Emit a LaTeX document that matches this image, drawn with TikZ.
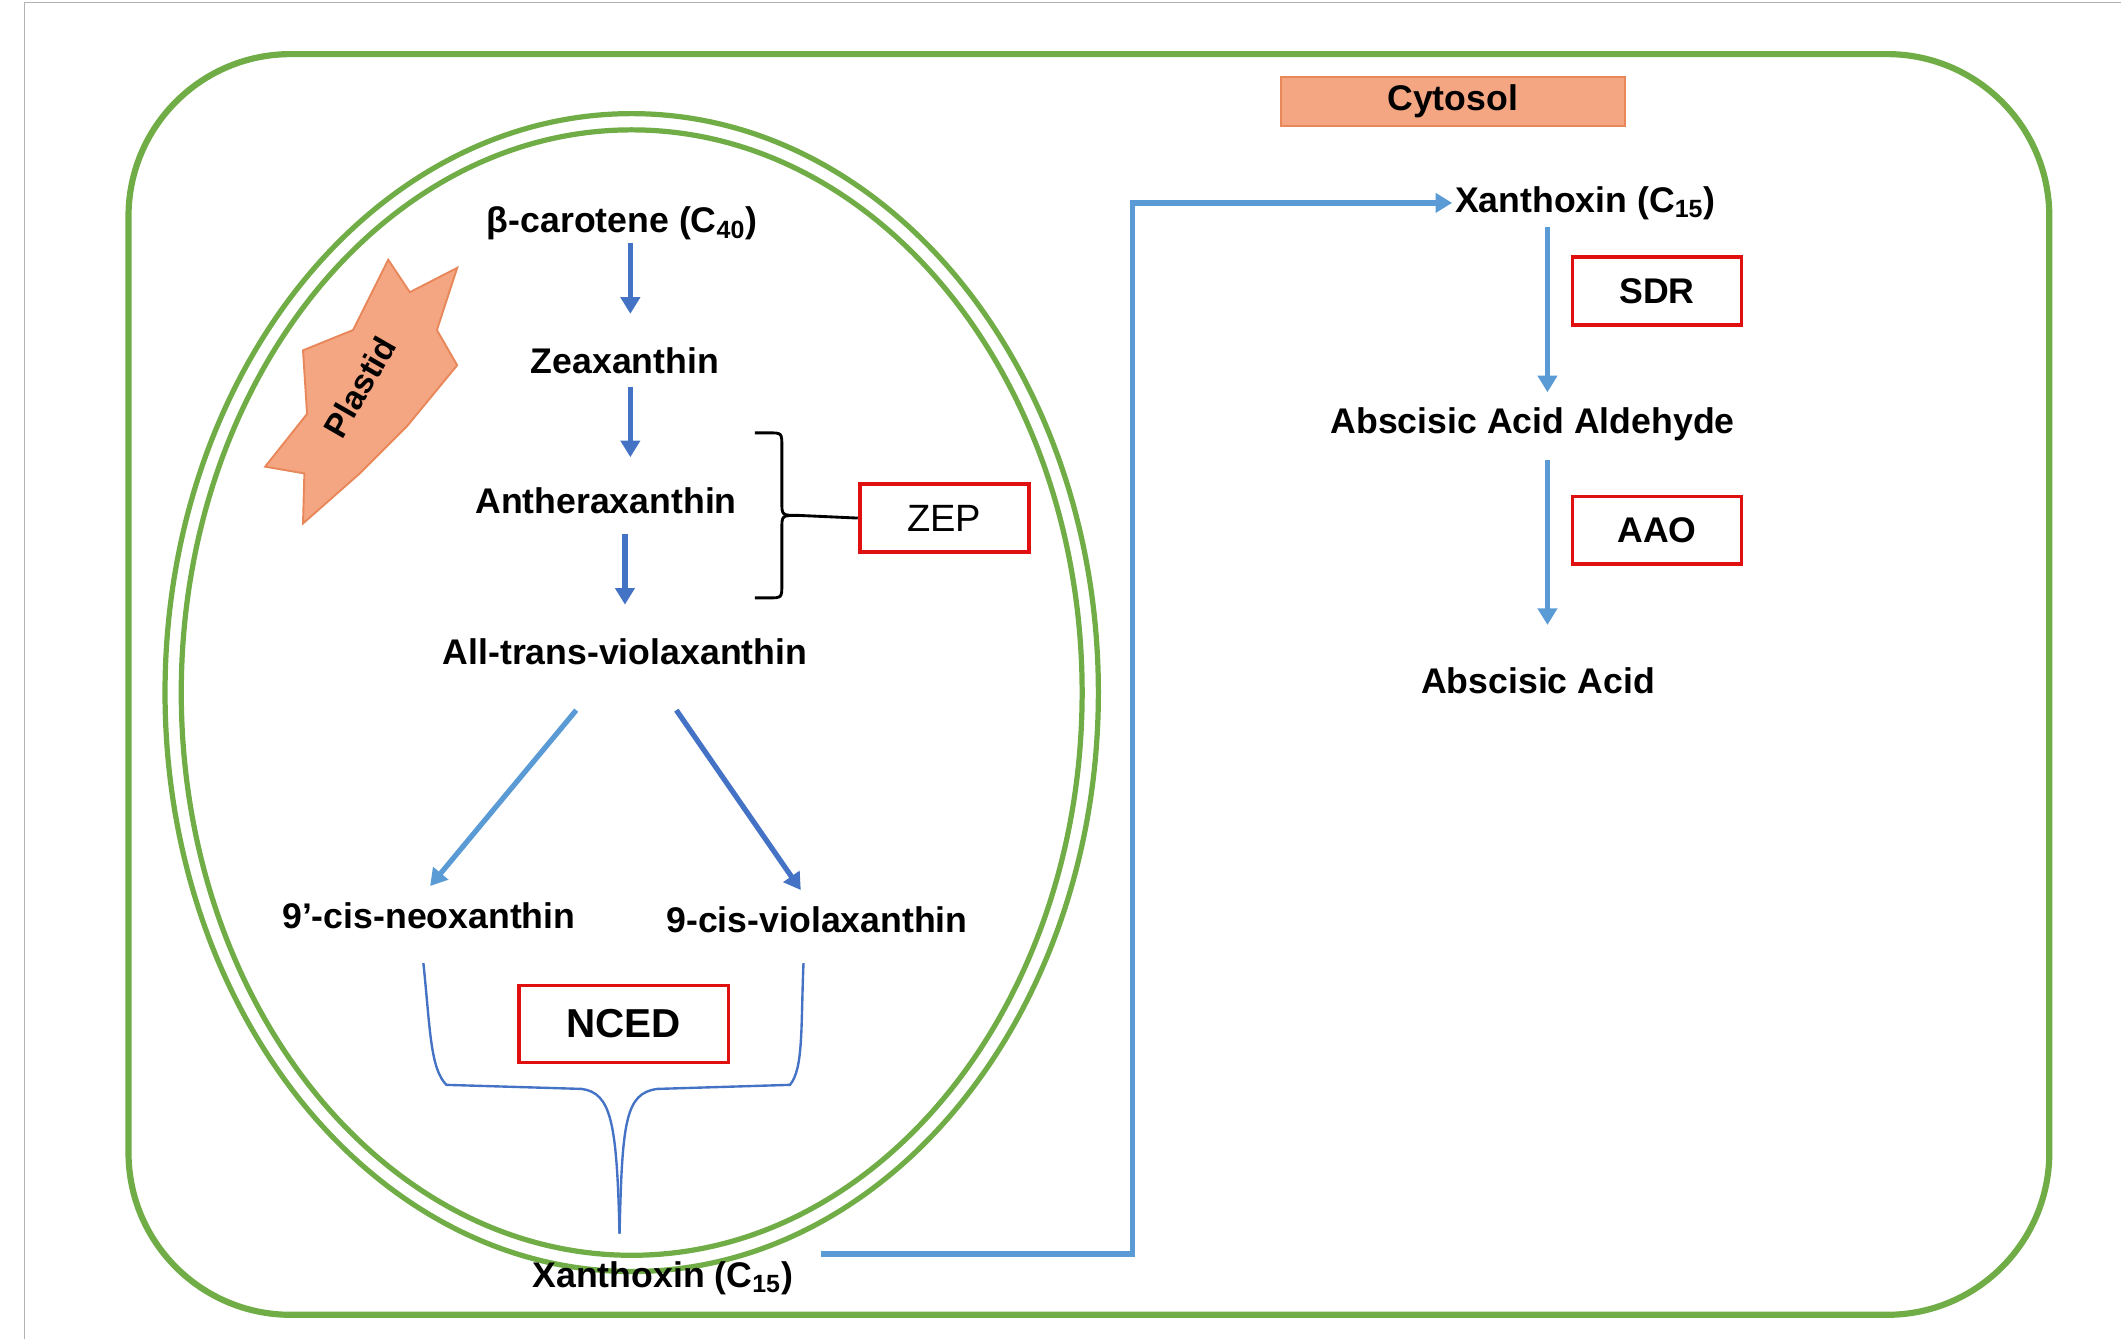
\documentclass[tikz,border=0pt]{standalone}
\usepackage{fontspec}
\setmainfont{Liberation Sans}
\usetikzlibrary{shapes.geometric,arrows.meta,decorations.pathreplacing}
\definecolor{grn}{HTML}{70AD47}
\definecolor{dblue}{HTML}{4472C4}
\definecolor{lblue}{HTML}{5B9BD5}
\definecolor{org}{HTML}{F4A582}
\definecolor{orgd}{HTML}{E8875A}
\definecolor{rd}{HTML}{E01010}
\begin{document}
\begin{tikzpicture}[x=0.02cm,y=-0.02cm,
  lbl/.style={font=\fontsize{15}{18}\selectfont\bfseries,inner sep=1pt},
  enz/.style={draw=rd,line width=1.6pt,minimum width=2.5cm,minimum height=1cm,font=\fontsize{15}{18}\selectfont\bfseries},
  darr/.style={draw=dblue,line width=2.2pt,-{Triangle[length=7pt,width=8pt]}},
  larr/.style={draw=lblue,line width=2.2pt,-{Triangle[length=7pt,width=8pt]}}]
\useasboundingbox (0,0) rectangle (1568,990);
\draw[gray!60,line width=0.6pt] (18,990) -- (18,2) -- (1568,2);
\draw[grn,line width=2.6pt,rounded corners=2.4cm] (95,40) rectangle (1515,972);
\draw[grn,line width=2.2pt] (467,512) ellipse [x radius=345,y radius=428];
\draw[grn,line width=2.2pt] (467,512) ellipse [x radius=333,y radius=416];
\draw[fill=org,draw=orgd,line width=0.8pt] (287,192) -- (303,216) -- (338,198) -- (323,244) -- (338,270) -- (301,315) -- (266,350) -- (224,387) -- (225,350) -- (196,345) -- (227,306) -- (224,259) -- (261,244) -- cycle;
\node[lbl,rotate=60,font=\fontsize{14}{16}\selectfont\bfseries] (plastid) at (266,286) {Plastid};
\node[lbl] (bc) at (460,165) {β-carotene (C$_{\mathbf{40}}$)};
\node[lbl] (zx) at (462,267) {Zeaxanthin};
\node[lbl] (ax) at (448,370) {Antheraxanthin};
\node[lbl] (atv) at (462,482) {All-trans-violaxanthin};
\node[lbl] (neo) at (317,677) {9’-cis-neoxanthin};
\node[lbl] (cv) at (604,680) {9-cis-violaxanthin};
\node[lbl] (xa) at (490,945) {Xanthoxin (C$_{\mathbf{15}}$)};
\draw[darr] (466,180) -- (466,232);
\draw[darr] (466,286) -- (466,338);
\draw[darr] (462,395) -- (462,447);
\draw[larr] (426,525) -- (318,655);
\draw[darr] (500,525) -- (592,658);
\draw[line width=1.2pt] (558,320) -- (568,320) .. controls (578,320) .. (578,330) -- (578,371) .. controls (578,381) .. (590,381) .. controls (578,381) .. (578,391) -- (578,432) .. controls (578,442) .. (568,442) -- (558,442);
\coordinate (bt) at (590,381);
\node[enz,font=\fontsize{16}{18}\selectfont] (zep) at (698,383) {ZEP};
\draw[line width=1.2pt] (bt) -- (zep.west);
\node[enz,minimum width=3.1cm,minimum height=1.14cm,font=\fontsize{17}{20}\selectfont\bfseries] (nced) at (461,757) {NCED};
\coordinate (jn) at (458,912);
\draw[dblue,line width=1pt] (313,712) .. controls (318,760) and (318,790) .. (330,802) -- (430,805) .. controls (452,808) and (456,830) .. (jn);
\draw[dblue,line width=1pt] (594,712) .. controls (592,760) and (594,790) .. (584,802) -- (486,805) .. controls (462,808) and (460,830) .. (jn);
\node[lbl] (xb) at (1172,150) {Xanthoxin (C$_{\mathbf{15}}$)};
\draw[lblue,line width=2.2pt,-{Triangle[length=7pt,width=8pt]}] (607,927) -- (837,927) -- (837,150) -- (xb.west);
\node[fill=org,draw=orgd,line width=0.8pt,minimum width=5.08cm,minimum height=0.7cm,font=\fontsize{15}{18}\selectfont\bfseries] (cyt) at (1074,75) {Cytosol};
\node[lbl] (aal) at (1133,314) {Abscisic Acid Aldehyde};
\node[lbl] (aa) at (1137,503) {Abscisic Acid};
\draw[larr] (1144,168) -- (1144,290);
\draw[larr] (1144,340) -- (1144,462);
\node[enz] (sdr) at (1225,215) {SDR};
\node[enz] (aao) at (1225,392) {AAO};
\end{tikzpicture}
\end{document}
